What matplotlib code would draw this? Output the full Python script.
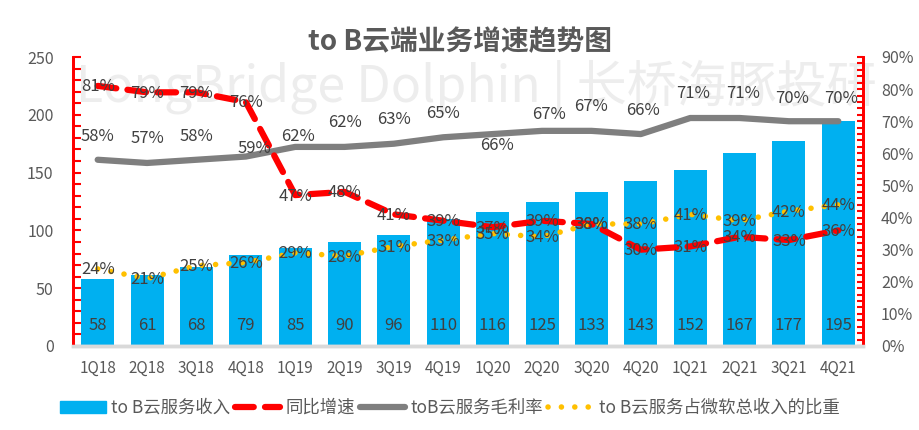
import matplotlib
matplotlib.use("Agg")
import matplotlib.pyplot as plt
from matplotlib.ticker import MultipleLocator, FuncFormatter
from matplotlib.lines import Line2D
from matplotlib.patches import Patch

plt.rcParams['font.family'] = ['Noto Sans CJK SC', 'DejaVu Sans']

quarters = ["1Q18", "2Q18", "3Q18", "4Q18", "1Q19", "2Q19", "3Q19", "4Q19",
            "1Q20", "2Q20", "3Q20", "4Q20", "1Q21", "2Q21", "3Q21", "4Q21"]
revenue = [58, 61, 68, 79, 85, 90, 96, 110, 116, 125, 133, 143, 152, 167, 177, 195]
yoy_growth = [81, 79, 79, 76, 47, 48, 41, 39, 37, 39, 38, 30, 31, 34, 33, 36]
gross_margin = [58, 57, 58, 59, 62, 62, 63, 65, 66, 67, 67, 66, 71, 71, 70, 70]
share_of_total = [24, 21, 25, 26, 29, 28, 31, 33, 35, 34, 38, 38, 41, 39, 42, 44]

# label offsets (pixels) for gross margin labels
gm_dx = [0, 0, 0, 9, 3, 0, 0, 0, 4, 7, 0, 2, 3, 3, 3, 3]
gm_dy = [23, 24, 23, 8, 10, 24, 24, 24, -11, 16, 24, 24, 25, 25, 23, 23]

BLUE = "#00B0F0"
RED = "#FF0000"
GRAY = "#7F7F7F"
YELLOW = "#FFC000"
TXT = "#595959"
LBL = "#404040"

fig = plt.figure(figsize=(9.2, 4.3), dpi=100)
ax = fig.add_axes([73/920, 1-346/430, 790/920, 289/430])
ax2 = ax.twinx()
ax.patch.set_visible(False)
ax2.patch.set_visible(False)

x = list(range(len(quarters)))

# watermark
fig.text(0.518, 1-88/430, "LongBridge Dolphin | 长桥海豚投研", ha="center", va="center",
         fontsize=36, color="#EDEDED", zorder=-1)

ax.bar(x, revenue, width=0.67, color=BLUE, zorder=2)
ax.set_xlim(-0.5, len(quarters)-0.5)
ax.set_ylim(0, 250)
ax.yaxis.set_major_locator(MultipleLocator(50))
ax.yaxis.set_minor_locator(MultipleLocator(10))
ax.set_xticks(x)
ax.set_xticklabels(quarters, fontsize=11, color=TXT)
ax.tick_params(axis="x", length=0, pad=10)
ax.tick_params(axis="y", which="both", direction="in", length=6, width=1.5,
               color=RED, labelsize=11.5, labelcolor=TXT, pad=14)

for xi, v in zip(x, revenue):
    ax.annotate(str(v), (xi, 0), xytext=(0, 20), textcoords="offset pixels",
                ha="center", va="center", fontsize=12, color=LBL, zorder=5)

ax2.set_ylim(0, 0.9)
ax2.yaxis.set_major_locator(MultipleLocator(0.1))
ax2.yaxis.set_minor_locator(MultipleLocator(0.02))
ax2.yaxis.set_major_formatter(FuncFormatter(lambda v, p: f"{v*100:.0f}%"))
ax2.tick_params(axis="y", which="both", direction="in", length=4, width=1.5,
                color=RED, labelsize=11.5, labelcolor=TXT, pad=13)

for a in (ax, ax2):
    a.spines["top"].set_visible(False)
    a.spines["left"].set_color(RED)
    a.spines["left"].set_linewidth(2)
    a.spines["right"].set_color(RED)
    a.spines["right"].set_linewidth(2)
    a.spines["bottom"].set_color("#D9D9D9")
    a.spines["bottom"].set_linewidth(2.5)

gm = [v/100 for v in gross_margin]
yoy = [v/100 for v in yoy_growth]
sh = [v/100 for v in share_of_total]

ax2.plot(x, gm, color=GRAY, lw=4.5, solid_capstyle="round", solid_joinstyle="round", zorder=3)
ax2.plot(x, yoy, color=RED, lw=4.5, linestyle=(0, (3.0, 1.8)), dash_capstyle="round", zorder=4)
ax2.plot(x, sh, color=YELLOW, lw=4, linestyle=(0, (0.01, 2.4)), dash_capstyle="round", zorder=4)

for xi, v, dx, dy in zip(x, gross_margin, gm_dx, gm_dy):
    ax2.annotate(f"{v}%", (xi, v/100), xytext=(dx, dy), textcoords="offset pixels",
                 ha="center", va="center", fontsize=12, color=LBL, zorder=6)
for xi, v in zip(x, yoy_growth):
    ax2.annotate(f"{v}%", (xi, v/100), xytext=(0, -1), textcoords="offset pixels",
                 ha="center", va="center", fontsize=12, color=LBL, zorder=6)
for xi, v in zip(x, share_of_total):
    ax2.annotate(f"{v}%", (xi, v/100), xytext=(0, -1), textcoords="offset pixels",
                 ha="center", va="center", fontsize=12, color=LBL, zorder=6)

fig.text(0.5, 1-42/430, "to B云端业务增速趋势图", ha="center", va="center",
         fontsize=20, fontweight="bold", color=TXT)

handles = [
    Patch(color=BLUE),
    Line2D([], [], color=RED, lw=4.5, linestyle=(0, (3.0, 1.8)), dash_capstyle="round"),
    Line2D([], [], color=GRAY, lw=4.5, solid_capstyle="round"),
    Line2D([], [], color=YELLOW, lw=4, linestyle=(0, (0.01, 2.4)), dash_capstyle="round"),
]
labels = ["to B云服务收入", "同比增速", "toB云服务毛利率", "to B云服务占微软总收入的比重"]
leg = fig.legend(handles, labels, loc="center", bbox_to_anchor=(0.489, 1-408/430), ncol=4,
                 frameon=False, fontsize=12.5, handlelength=2.6, handletextpad=0.3,
                 columnspacing=0.3, labelcolor=TXT)

fig.savefig("out.png", dpi=100)
